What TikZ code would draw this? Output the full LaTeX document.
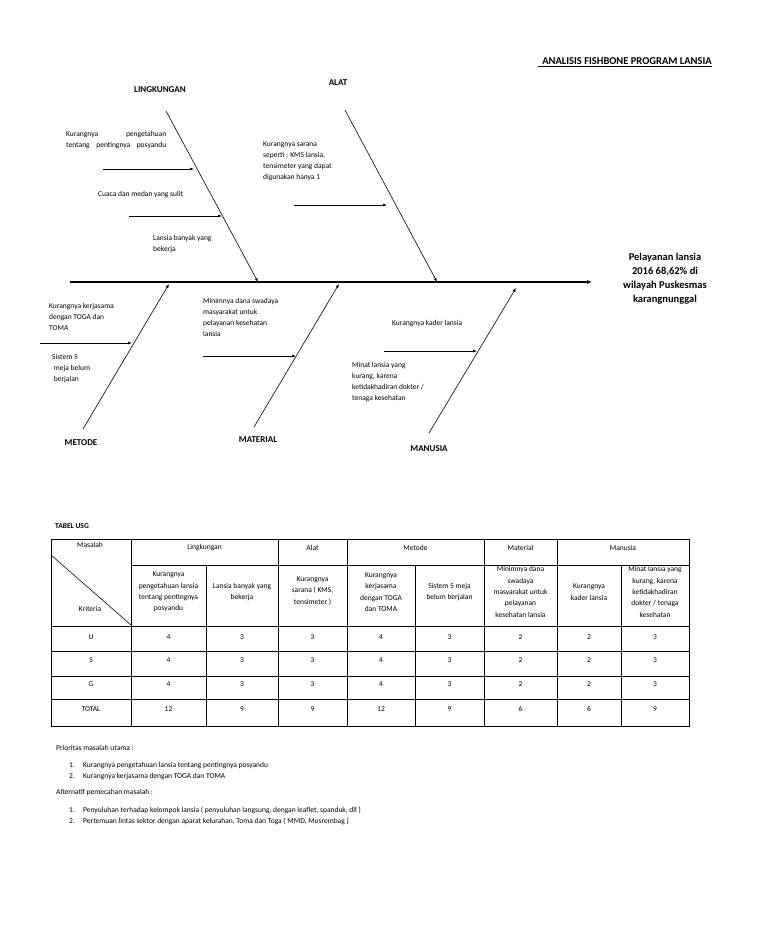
\documentclass[tikz,border=0pt]{standalone}
\usepackage{fontspec}
\setmainfont{Carlito}
\usetikzlibrary{arrows.meta}

\begin{document}
\begin{tikzpicture}[x=1pt, y=-1pt,
    spine/.style={line width=1.6pt, -{Latex[length=5pt,width=4pt]}},
    bone/.style={line width=0.6pt, -{Latex[length=4pt,width=3pt]}},
    cat/.style={font=\bfseries\fontsize{9}{11}\selectfont, inner sep=0pt},
    cause/.style={font=\fontsize{7.5}{11}\selectfont, align=left, anchor=north west, inner sep=0pt},
    cell/.style={font=\fontsize{7.5}{11.3}\selectfont, align=center, inner sep=0pt},
    grid/.style={line width=0.9pt}]
    \useasboundingbox (0,0) rectangle (768,932);
    \node[font=\bfseries\fontsize{10.5}{13}\selectfont, inner sep=0pt] (judul) at (625,62)
        {\underline{\hspace{4pt}ANALISIS FISHBONE PROGRAM LANSIA}};
    % spine and head
    \coordinate (ekor) at (70,282);
    \coordinate (kepala) at (592,282);
    \draw[spine] (ekor) -- (kepala);
    \node[font=\bfseries\fontsize{10.5}{14}\selectfont, align=center, inner sep=0pt] (akibat) at (665,279)
        {Pelayanan lansia\\2016 68,62\% di\\wilayah Puskesmas\\karangnunggal};
    % main bones
    \coordinate (lingA) at (166,111);
    \coordinate (lingB) at (258,282);
    \coordinate (alatA) at (345,110);
    \coordinate (alatB) at (437,282);
    \coordinate (metA) at (83,429);
    \coordinate (metB) at (169,284);
    \coordinate (matA) at (254,427);
    \coordinate (matB) at (339,284);
    \coordinate (manA) at (429,433);
    \coordinate (manB) at (516,288);
    \draw[bone] (lingA) -- (lingB);
    \draw[bone] (alatA) -- (alatB);
    \draw[bone] (metA) -- (metB);
    \draw[bone] (matA) -- (matB);
    \draw[bone] (manA) -- (manB);
    \node[cat] (ling) at (160,90) {LINGKUNGAN};
    \node[cat] (alat) at (338,83) {ALAT};
    \node[cat] (met) at (81,443) {METODE};
    \node[cat] (mat) at (258,440) {MATERIAL};
    \node[cat] (man) at (429,449) {MANUSIA};
    % small arrows
    \coordinate (l1s) at (103,169);
    \coordinate (l1e) at (194,169);
    \coordinate (l2s) at (129,216);
    \coordinate (l2e) at (222,216);
    \coordinate (a1s) at (294,205);
    \coordinate (a1e) at (387,205);
    \coordinate (m1s) at (40,343);
    \coordinate (m1e) at (132,343);
    \coordinate (t1s) at (203,356);
    \coordinate (t1e) at (296,356);
    \coordinate (n1s) at (384,351);
    \coordinate (n1e) at (477,351);
    \draw[bone] (l1s) -- (l1e);
    \draw[bone] (l2s) -- (l2e);
    \draw[bone] (a1s) -- (a1e);
    \draw[bone] (m1s) -- (m1e);
    \draw[bone] (t1s) -- (t1e);
    \draw[bone] (n1s) -- (n1e);
    % causes
    \node[cause] (lingT1) at (66,131)
        {\hbox to 100pt{Kurangnya\hfill pengetahuan}\\\hbox to 100pt{tentang\hfill pentingnya\hfill posyandu}};
    \node[cause] (lingT2) at (98,191) {Cuaca dan medan yang sulit};
    \node[cause] (lingT3) at (153,235) {Lansia banyak yang\\bekerja};
    \node[cause] (alatT1) at (263,141) {Kurangnya sarana\\seperti : KMS lansia,\\tensimeter yang dapat\\digunakan hanya 1};
    \node[cause] (metT1) at (49,303) {Kurangnya kerjasama\\dengan TOGA dan\\TOMA};
    \node[cause] (metT2) at (52,354) {Sistem 5\\\ meja belum\\\ berjalan};
    \node[cause] (matT1) at (203,298) {Minimnya dana swadaya\\masyarakat untuk\\pelayanan kesehatan\\lansia};
    \node[cause] (manT1) at (392,320) {Kurangnya kader lansia};
    \node[cause] (manT2) at (352,362) {Minat lansia yang\\kurang, karena\\ketidakhadiran dokter /\\tenaga kesehatan};
    % table
    \node[font=\bfseries\fontsize{7.5}{9}\selectfont, anchor=west, inner sep=0pt] (tabel) at (55,526) {TABEL USG};
    \draw[grid] (51,539) rectangle (689,726);
    \draw[grid] (131,565) -- (689,565);
    \foreach \y in {626,651,676,699} \draw[grid] (51,\y) -- (689,\y);
    \foreach \x in {131,278,347,484,557} \draw[grid] (\x,539) -- (\x,726);
    \foreach \x in {206,415,621} \draw[grid] (\x,565) -- (\x,726);
    \draw[line width=0.6pt] (51,555) -- (131,625);
    \node[cell] (hMas) at (90,545) {Masalah};
    \node[cell] (hKri) at (90,609) {Kriteria};
    \node[cell] (hLing) at (204.5,548) {Lingkungan};
    \node[cell] (hAlat) at (312.5,548) {Alat};
    \node[cell] (hMet) at (415.5,548) {Metode};
    \node[cell] (hMat) at (520.5,548) {Material};
    \node[cell] (hMan) at (623,548) {Manusia};
    \node[cell] (k1) at (168.5,592) {Kurangnya\\pengetahuan lansia\\tentang pentingnya\\posyandu};
    \node[cell] (k2) at (242,592) {Lansia banyak yang\\bekerja};
    \node[cell] (k3) at (312.5,591) {Kurangnya\\sarana ( KMS,\\tensimeter )};
    \node[cell] (k4) at (381,592) {Kurangnya\\kerjasama\\dengan TOGA\\dan TOMA};
    \node[cell] (k5) at (449.5,592) {Sistem 5 meja\\belum berjalan};
    \node[cell] (k6) at (520.5,592) {Minimnya dana\\swadaya\\masyarakat untuk\\pelayanan\\kesehatan lansia};
    \node[cell] (k7) at (589,592) {Kurangnya\\kader lansia};
    \node[cell] (k8) at (655,592) {Minat lansia yang\\kurang, karena\\ketidakhadiran\\dokter / tenaga\\kesehatan};
    \foreach \lab/\y/\vals [count=\k] in {U/637/{4,3,3,4,3,2,2,3}, S/660/{4,3,3,4,3,2,2,3},
        G/684/{4,3,3,4,3,2,2,3}, TOTAL/709/{12,9,9,12,9,6,6,9}} {
        \node[cell] (baris\k) at (91,\y) {\lab};
        \foreach \v [count=\i] in \vals {
            \pgfmathsetmacro\cx{{168.5,242,312.5,381,449.5,520.5,589,655}[\i-1]}
            \node[cell] (nilai\k-\i) at (\cx,\y) {\v};
        }
    }
    % notes below
    \node[cause] (prio) at (56,745) {Prioritas masalah utama :};
    \node[cause] (p1n) at (69,762) {1.};
    \node[cause] (p1) at (83,762) {Kurangnya pengetahuan lansia tentang pentingnya posyandu};
    \node[cause] (p2n) at (69,773) {2.};
    \node[cause] (p2) at (83,773) {Kurangnya kerjasama dengan TOGA dan TOMA};
    \node[cause] (alt) at (56,789) {Alternatif pemecahan masalah :};
    \node[cause] (a1n) at (69,807) {1.};
    \node[cause] (a1) at (83,807) {Penyuluhan terhadap kelompok lansia ( penyuluhan langsung, dengan leaflet, spanduk, dll )};
    \node[cause] (a2n) at (69,818) {2.};
    \node[cause] (a2) at (83,818) {Pertemuan lintas sektor dengan aparat kelurahan, Toma dan Toga ( MMD, Musrembag )};
\end{tikzpicture}
\end{document}
